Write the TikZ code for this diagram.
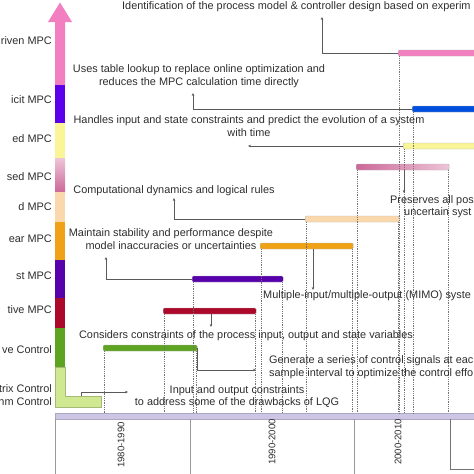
\documentclass[tikz,border=0pt]{standalone}
\usepackage{fontspec}
\setmainfont{Liberation Sans}
\usepackage{xcolor}
\usetikzlibrary{arrows.meta, positioning, calc}

\definecolor{mpink}{RGB}{242,128,192}
\definecolor{mviolet}{RGB}{92,0,235}
\definecolor{mblue}{RGB}{0,78,222}
\definecolor{myellow}{RGB}{250,245,150}
\definecolor{mmauvelt}{RGB}{238,196,216}
\definecolor{mmauvedk}{RGB}{204,104,152}
\definecolor{mpeach}{RGB}{251,216,172}
\definecolor{morange}{RGB}{240,162,22}
\definecolor{mpurple}{RGB}{88,0,172}
\definecolor{mred}{RGB}{172,8,42}
\definecolor{mgreen}{RGB}{94,164,34}
\definecolor{mlgreen}{RGB}{208,232,146}
\definecolor{mlav}{RGB}{204,198,228}
\definecolor{mtext}{RGB}{45,45,45}

\begin{document}
\begin{tikzpicture}[
    x=1pt, y=-1pt,
    txt/.style={font=\fontsize{10.9}{12.8}\selectfont, text=mtext, inner sep=0pt, align=center},
    lbl/.style={txt, anchor=east},
    yr/.style={txt, font=\fontsize{9.6}{11}\selectfont, rotate=90},
    tbar/.style={draw=black!30, inner sep=0pt, minimum height=6pt, rounded corners=1.2pt, anchor=west},
    drop/.style={black!55, line width=0.5pt, dash pattern=on 0.7pt off 1.1pt},
    conn/.style={-{Stealth[length=3pt, width=2.6pt]}, black!65, line width=0.5pt},
    axis/.style={black!40, line width=0.8pt},
]
\useasboundingbox (0,0) rectangle (474,474);
\clip (0,0) rectangle (474,474);

% timeline arrow
\fill[mpink] (48,22) -- (60,2.5) -- (72,22) -- (65,22) -- (65,85) -- (55,85) -- (55,22) -- cycle;
\fill[mviolet] (55,85) rectangle (65,123);
\fill[myellow] (55,123) rectangle (65,158);
\shade[top color=mmauvelt, bottom color=mmauvedk] (55,158) rectangle (65,192);
\fill[mpeach] (55,192) rectangle (65,222);
\fill[morange] (55,222) rectangle (65,260);
\fill[mpurple] (55,260) rectangle (65,298);
\fill[mred] (55,298) rectangle (65,328);
\fill[mgreen] (55,328) rectangle (65,367);
\fill[mlgreen, draw=mlgreen!80!black, line width=0.3pt] (55,367) -- (65,367) -- (65,396) -- (101,396) -- (101,407) -- (55,407) -- cycle;
\coordinate (lqg) at (81,396);

\node[lbl] (ddmpc) at (52,41) {riven MPC};
\node[lbl] (exmpc) at (52,100) {icit MPC};
\node[lbl] (dimpc) at (52,139) {ed MPC};
\node[lbl] (tbmpc) at (52,177) {sed MPC};
\node[lbl] (hympc) at (52,207) {d MPC};
\node[lbl] (nlmpc) at (52,239) {ear MPC};
\node[lbl] (rbmpc) at (52,276) {st MPC};
\node[lbl] (admpc) at (52,310) {tive MPC};
\node[lbl] (pdctl) at (52,350) {ve Control};
\node[lbl] (dmctl) at (52,389) {trix Control};
\node[lbl] (alctl) at (52,402) {hm Control};

% axis
\node[fill=mlav, draw=mlav!85!black, line width=0.3pt, inner sep=0pt, minimum width=430pt, minimum height=6pt, anchor=north west] (band) at (55,413) {};
\draw[axis] (55,419) -- (55,474);
\draw[axis] (190,419) -- (190,474);
\draw[axis] (354,419) -- (354,474);
\draw[axis, black!55] (450,419) -- (450,469) -- (480,469);
\node[yr] (y80) at (121,445) {1980-1990};
\node[yr] (y90) at (272,442) {1990-2000};
\node[yr] (y00) at (398,442) {2000-2010};

% bars
\node[tbar, fill=mgreen, minimum width=94pt] (greenbar) at (103,348) {};
\node[tbar, fill=mred, minimum width=93pt] (redbar) at (163,311) {};
\node[tbar, fill=mpurple, minimum width=91pt] (purplebar) at (192,279) {};
\node[tbar, fill=morange, minimum width=93pt] (orangebar) at (260,246) {};
\node[tbar, fill=mpeach, minimum width=94pt] (peachbar) at (305,219) {};
\node[tbar, left color=mmauvedk, right color=mmauvelt, minimum width=93pt] (mauvebar) at (356,167) {};
\node[tbar, fill=myellow, minimum width=90pt] (yellowbar) at (403,146) {};
\node[tbar, fill=mblue, minimum width=80pt] (bluebar) at (412,109) {};
\node[tbar, fill=mpink, minimum width=90pt] (pinkbar) at (398,53) {};

\foreach \b in {greenbar,redbar,purplebar,orangebar,peachbar,mauvebar} {
  \draw[drop] ([xshift=1.5pt]\b.south west) -- ([xshift=1.5pt]\b.south west |- band.north);
  \draw[drop] ([xshift=-1.5pt]\b.south east) -- ([xshift=-1.5pt]\b.south east |- band.north);
}
\foreach \b in {yellowbar,bluebar,pinkbar}
  \draw[drop] ([xshift=1.5pt]\b.south west) -- ([xshift=1.5pt]\b.south west |- band.north);

% notes
\node[txt, anchor=west] (idtext) at (122,7) {Identification of the process model \& controller design based on experim};
\node[txt] (luttext) at (199,76) {Uses table lookup to replace online optimization and\\reduces the MPC calculation time directly};
\node[txt] (hdltext) at (249,126) {Handles input and state constraints and predict the evolution of a system\\with time};
\node[txt] (comptext) at (174,191) {Computational dynamics and logical rules};
\node[txt, anchor=west] (prestext) at (390,201) {Preserves all pos};
\node[txt, anchor=west] (prestext2) at (404,213) {uncertain syst};
\node[txt] (maintext) at (171,239) {Maintain stability and performance despite\\model inaccuracies or uncertainties};
\node[txt, anchor=west] (mimotext) at (263,296) {Multiple-input/multiple-output (MIMO) syste};
\node[txt] (constext) at (246,336) {Considers constraints of the process input, output and state variables};
\node[txt, anchor=west, align=left] (gentext) at (269,367.5) {Generate a series of control signals at eac\\sample interval to optimize the control effo};
\node[txt] (inptext) at (237,396.5) {Input and output constraints\\to address some of the drawbacks of LQG};

\coordinate (idend) at (322,17);
\coordinate (lutend) at (193,93);
\coordinate (hdlend) at (248,146);
\coordinate (compend) at (174,198);
\coordinate (presend) at (404,193);
\coordinate (maintend) at (106,257);
\coordinate (mimoend) at (313,290);
\coordinate (consend) at (211,327);
\coordinate (genend) at (256,370);
\coordinate (inpend) at (128,392);

\draw[conn] (pinkbar.west) -| (idend);
\draw[conn] (bluebar.west) -| (lutend);
\draw[conn] (yellowbar.west) -- (hdlend);
\draw[conn] (peachbar.west) -| (compend);
\draw[conn] (presend |- mauvebar.south) -- (presend);
\draw[conn] (purplebar.west) -| (maintend);
\draw[conn] (mimoend |- orangebar.south) -- (mimoend);
\draw[conn] (consend |- redbar.south) -- (consend);
\draw[conn] (greenbar.east) |- (genend);
\draw[conn] (lqg) |- (inpend);
\end{tikzpicture}
\end{document}
